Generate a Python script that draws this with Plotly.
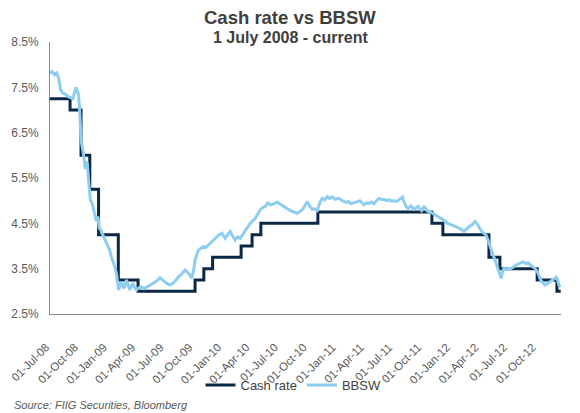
import plotly.graph_objects as go

# RBA cash rate: dates of change and new level (%)
cash_dates = ["2008-07-01", "2008-09-03", "2008-10-08", "2008-11-05", "2008-12-03",
              "2009-02-04", "2009-04-08", "2009-10-07", "2009-11-04", "2009-12-02",
              "2010-03-03", "2010-04-07", "2010-05-05", "2010-11-03", "2011-11-02",
              "2011-12-07", "2012-05-02", "2012-06-06", "2012-10-03", "2012-12-05",
              "2012-12-17"]
cash_rate = [7.25, 7.00, 6.00, 5.25, 4.25,
             3.25, 3.00, 3.25, 3.50, 3.75,
             4.00, 4.25, 4.50, 4.75, 4.50,
             4.25, 3.75, 3.50, 3.25, 3.00,
             3.00]

# 3 month BBSW (%)
bbsw_dates = [
    "2008-07-01", "2008-07-08", "2008-07-15", "2008-07-22", "2008-07-28", "2008-08-04",
    "2008-08-11", "2008-08-19", "2008-08-27", "2008-09-05", "2008-09-12", "2008-09-18",
    "2008-09-22", "2008-09-26", "2008-09-30", "2008-10-03", "2008-10-09", "2008-10-14",
    "2008-10-17", "2008-10-22", "2008-10-24", "2008-10-28", "2008-11-03", "2008-11-07",
    "2008-11-12", "2008-11-17", "2008-11-21", "2008-11-26", "2008-12-01", "2008-12-05",
    "2008-12-10", "2008-12-17", "2008-12-23", "2009-01-02", "2009-01-08", "2009-01-13",
    "2009-01-19", "2009-01-24", "2009-01-29", "2009-02-01", "2009-02-05", "2009-02-10",
    "2009-02-14", "2009-02-19", "2009-02-23", "2009-03-02", "2009-03-07", "2009-03-13",
    "2009-03-18", "2009-03-23", "2009-03-28", "2009-04-03", "2009-04-10", "2009-04-19",
    "2009-04-27", "2009-05-05", "2009-05-15", "2009-05-26", "2009-06-05", "2009-06-17",
    "2009-06-25", "2009-07-03", "2009-07-10", "2009-07-19", "2009-07-29", "2009-08-06",
    "2009-08-15", "2009-08-25", "2009-09-05", "2009-09-16", "2009-09-26", "2009-10-02",
    "2009-10-07", "2009-10-12", "2009-10-18", "2009-10-26", "2009-11-03", "2009-11-11",
    "2009-11-19", "2009-11-27", "2009-12-05", "2009-12-13", "2009-12-21", "2010-01-01",
    "2010-01-11", "2010-01-19", "2010-01-27", "2010-02-04", "2010-02-12", "2010-02-20",
    "2010-02-28", "2010-03-08", "2010-03-16", "2010-03-24", "2010-04-01", "2010-04-09",
    "2010-04-17", "2010-04-25", "2010-05-03", "2010-05-11", "2010-05-19", "2010-05-27",
    "2010-06-04", "2010-06-15", "2010-06-26", "2010-07-06", "2010-07-17", "2010-07-27",
    "2010-08-07", "2010-08-18", "2010-08-29", "2010-09-07", "2010-09-14", "2010-09-22",
    "2010-09-30", "2010-10-08", "2010-10-16", "2010-10-24", "2010-11-01", "2010-11-09",
    "2010-11-17", "2010-11-25", "2010-12-03", "2010-12-10", "2010-12-19", "2010-12-28",
    "2011-01-09", "2011-01-20", "2011-01-31", "2011-02-08", "2011-02-16", "2011-02-24",
    "2011-03-04", "2011-03-10", "2011-03-17", "2011-03-24", "2011-03-30", "2011-04-07",
    "2011-04-15", "2011-04-23", "2011-05-01", "2011-05-09", "2011-05-17", "2011-05-25",
    "2011-06-02", "2011-06-10", "2011-06-18", "2011-06-26", "2011-07-04", "2011-07-12",
    "2011-07-20", "2011-07-31", "2011-08-04", "2011-08-08", "2011-08-13", "2011-08-18",
    "2011-08-27", "2011-09-06", "2011-09-12", "2011-09-19", "2011-09-30", "2011-10-09",
    "2011-10-15", "2011-10-21", "2011-10-28", "2011-11-04", "2011-11-12", "2011-11-20",
    "2011-11-28", "2011-12-06", "2011-12-14", "2011-12-22", "2011-12-28", "2012-01-06",
    "2012-01-13", "2012-01-21", "2012-01-29", "2012-02-05", "2012-02-12", "2012-02-19",
    "2012-02-25", "2012-03-02", "2012-03-08", "2012-03-14", "2012-03-19", "2012-03-24",
    "2012-03-30", "2012-04-04", "2012-04-09", "2012-04-16", "2012-04-23", "2012-04-28",
    "2012-05-04", "2012-05-09", "2012-05-15", "2012-05-20", "2012-05-25", "2012-05-30",
    "2012-06-05", "2012-06-10", "2012-06-14", "2012-06-19", "2012-06-26", "2012-07-02",
    "2012-07-10", "2012-07-18", "2012-07-26", "2012-08-03", "2012-08-11", "2012-08-19",
    "2012-08-27", "2012-09-04", "2012-09-12", "2012-09-20", "2012-09-27", "2012-10-04",
    "2012-10-09", "2012-10-14", "2012-10-20", "2012-10-27", "2012-11-02", "2012-11-07",
    "2012-11-14", "2012-11-21", "2012-11-27", "2012-12-03", "2012-12-07", "2012-12-11",
    "2012-12-17"]
bbsw = [
    7.81, 7.85, 7.78, 7.82, 7.72, 7.45,
    7.37, 7.35, 7.30, 7.27, 7.25, 7.40,
    7.50, 7.42, 7.35, 7.05, 6.30, 6.10,
    5.97, 5.70, 5.85, 5.82, 5.30, 5.00,
    4.95, 4.80, 4.75, 4.55, 4.65, 4.40,
    4.35, 4.25, 4.13, 3.99, 3.90, 3.76,
    3.65, 3.54, 3.40, 3.25, 3.03, 3.15,
    3.21, 3.10, 3.07, 3.25, 3.15, 3.03,
    3.12, 3.18, 3.08, 3.03, 3.08, 3.10,
    3.06, 3.10, 3.13, 3.18, 3.22, 3.30,
    3.25, 3.21, 3.17, 3.14, 3.18, 3.24,
    3.32, 3.38, 3.47, 3.40, 3.29, 3.45,
    3.69, 3.80, 3.91, 3.95, 3.99, 3.97,
    4.02, 4.08, 4.13, 4.18, 4.24, 4.28,
    4.17, 4.25, 4.32, 4.22, 4.13, 4.20,
    4.17, 4.25, 4.35, 4.42, 4.50, 4.55,
    4.61, 4.70, 4.80, 4.85, 4.87, 4.95,
    4.91, 4.93, 4.97, 4.92, 4.87, 4.82,
    4.78, 4.75, 4.72, 4.76, 4.80, 4.88,
    4.98, 4.88, 4.81, 4.82, 4.78, 4.95,
    5.05, 5.02, 5.09, 5.05, 5.08, 5.03,
    5.05, 5.00, 4.96, 4.98, 4.93, 4.95,
    4.96, 4.98, 5.00, 4.95, 4.91, 4.95,
    4.94, 4.97, 4.93, 5.00, 5.05, 5.02,
    5.03, 5.00, 5.02, 4.99, 5.00, 4.98,
    5.02, 5.08, 4.98, 4.91, 4.86, 4.83,
    4.88, 4.81, 4.84, 4.87, 4.78, 4.88,
    4.80, 4.76, 4.75, 4.72, 4.68, 4.65,
    4.62, 4.59, 4.55, 4.50, 4.49, 4.46,
    4.44, 4.42, 4.39, 4.36, 4.32, 4.37,
    4.41, 4.44, 4.46, 4.50, 4.54, 4.50,
    4.44, 4.38, 4.32, 4.28, 4.24, 4.15,
    4.02, 3.90, 3.80, 3.72, 3.62, 3.55,
    3.43, 3.29, 3.42, 3.51, 3.49, 3.51,
    3.50, 3.54, 3.57, 3.60, 3.62, 3.65,
    3.61, 3.63, 3.58, 3.54, 3.50, 3.43,
    3.35, 3.25, 3.20, 3.14, 3.16, 3.18,
    3.22, 3.25, 3.28, 3.31, 3.25, 3.14,
    3.10]

y_ticks = [2.5, 3.5, 4.5, 5.5, 6.5, 7.5, 8.5]
x_ticks = ["2008-07-01", "2008-10-01", "2009-01-01", "2009-04-01", "2009-07-01",
           "2009-10-01", "2010-01-01", "2010-04-01", "2010-07-01", "2010-10-01",
           "2011-01-01", "2011-04-01", "2011-07-01", "2011-10-01", "2012-01-01",
           "2012-04-01", "2012-07-01", "2012-10-01"]

FONT = "Arial, Liberation Sans, sans-serif"
TXT = "#595959"

fig = go.Figure()

fig.add_trace(go.Scatter(x=cash_dates, y=cash_rate, name="Cash rate",
                         mode="lines", line=dict(color="#0B2847", width=3, shape="hv")))
fig.add_trace(go.Scatter(x=bbsw_dates, y=bbsw, name="BBSW",
                         mode="lines", line=dict(color="#8CCDF0", width=3)))

fig.update_xaxes(range=["2008-07-01", "2012-12-18"], tickvals=x_ticks,
                 tickformat="%d-%b-%y", tickangle=-45, automargin=False,
                 showgrid=False, zeroline=False, showline=True,
                 linecolor="#868686", linewidth=1, ticks="",
                 ticklabelstandoff=21, ticklabelshift=-4, ticklabeloverflow="allow",
                 tickfont=dict(family=FONT, size=11.5, color=TXT))
fig.update_yaxes(range=[2.5, 8.5], tickvals=y_ticks, automargin=False,
                 ticktext=[f"{v:.1f}%" for v in y_ticks],
                 showgrid=False, zeroline=False, showline=True,
                 linecolor="#868686", linewidth=1, ticks="",
                 ticklabelstandoff=8, ticklabeloverflow="allow",
                 tickfont=dict(family=FONT, size=12, color=TXT))

# title block is centred on the page, not on the plot area
fig.add_annotation(text="<b>Cash rate vs BBSW</b>", xref="paper", yref="paper",
                   x=(282 - 42) / 511, y=1.0 + (34 - 9.5) / 272,
                   xanchor="center", yanchor="middle", showarrow=False,
                   font=dict(family=FONT, size=18.5, color="#404040"))
fig.add_annotation(text="<b>1 July 2008 - current</b>", xref="paper", yref="paper",
                   x=(282 - 42) / 511, y=1.0 + (34 - 29) / 272,
                   xanchor="center", yanchor="middle", showarrow=False,
                   font=dict(family=FONT, size=16, color="#404040"))
fig.add_annotation(text="<i>Source: FIIG Securities, Bloomberg</i>",
                   xref="paper", yref="paper", x=(4 - 42) / 511, xanchor="left",
                   y=(306 - 397) / 272, yanchor="middle", showarrow=False,
                   font=dict(family=FONT, size=11, color=TXT))

# the page body adds an 8px offset, so margins are shifted to compensate
fig.update_layout(
    width=580, height=413,
    margin=dict(l=42, r=27, t=34, b=107),
    paper_bgcolor="white", plot_bgcolor="white",
    showlegend=True,
    legend=dict(orientation="h", x=(285.5 - 42) / 511, xanchor="center",
                yref="container", y=1 - 377 / 413, yanchor="middle",
                font=dict(family=FONT, size=13, color="#404040"),
                itemwidth=30, bgcolor="rgba(0,0,0,0)"),
)

fig.write_html("out.html")
